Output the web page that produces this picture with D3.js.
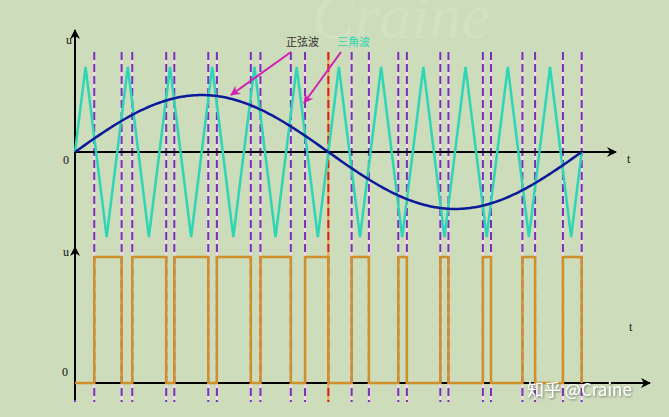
<!DOCTYPE html><html><head><meta charset="utf-8">
<script src="https://cdn.jsdelivr.net/npm/d3@7"></script>
<style>body{margin:0;background:#cddcbb}svg{display:block}</style></head><body>
<script>
// time normalised to one sine period (0..1)
const triVerts = [[0,0],[0.0208,1],[0.0625,-1],[0.1042,1],[0.1458,-1],[0.1875,1],[0.2292,-1],[0.2708,1],[0.3125,-1],[0.3542,1],[0.3958,-1],[0.4375,1],[0.4792,-1],[0.5208,1],[0.5625,-1],[0.6042,1],[0.6458,-1],[0.6875,1],[0.7292,-1],[0.7708,1],[0.8125,-1],[0.8542,1],[0.8958,-1],[0.9375,1],[0.9792,-1],[1,0]];
const sineAmp = 0.67;
const switchTimes = [0,0.038,0.092,0.113,0.180,0.196,0.263,0.280,0.347,0.366,0.426,0.454,0.5,0.546,0.580,0.638,0.655,0.721,0.737,0.805,0.821,0.883,0.908,0.963,1.0];
const pwmHigh = [[0.038,0.092],[0.113,0.180],[0.196,0.263],[0.280,0.347],[0.366,0.426],[0.454,0.5],[0.546,0.580],[0.638,0.655],[0.721,0.737],[0.805,0.821],[0.883,0.908],[0.963,1.0]];
const labels = ["正弦波","三角波"];

const W=669,H=417;
const svg=d3.select("body").append("svg").attr("width",W).attr("height",H);
const defs=svg.append("defs");
const f=defs.append("filter").attr("id","sh");
f.append("feDropShadow").attr("dx",1).attr("dy",1).attr("stdDeviation",1).attr("flood-color","#556050").attr("flood-opacity",0.8);
svg.append("rect").attr("width",W).attr("height",H).attr("fill","#cddcbb");
svg.append("text").attr("x",312).attr("y",38).attr("font-family","Liberation Serif").attr("font-size",64).attr("font-style","italic").attr("fill","#d3e1c3").text("Craine");

const x=d3.scaleLinear().domain([0,1]).range([75,581.7]);
const y=d3.scaleLinear().domain([-1,1]).range([237,67]);
const y2=d3.scaleLinear().domain([0,1]).range([383,257]);

switchTimes.forEach(t=>{
  const red = t===0.5;
  svg.append("line").attr("x1",x(t)).attr("x2",x(t)).attr("y1",52).attr("y2",402).attr("stroke",red?"#f0a040":"#f4d8f0").attr("stroke-width",2);
  svg.append("line").attr("x1",x(t)).attr("x2",x(t)).attr("y1",52).attr("y2",402).attr("stroke",red?"#d42020":"#7a2fb8").attr("stroke-width",2).attr("stroke-dasharray","8,4");
});

defs.append("marker").attr("id","ah").attr("viewBox","0 0 10 10").attr("refX",9).attr("refY",5).attr("markerWidth",5).attr("markerHeight",5).attr("orient","auto").append("path").attr("d","M0,0L10,5L0,10L3,5Z").attr("fill","#000");
function ax(x1,y1,x2,y2v){svg.append("line").attr("x1",x1).attr("y1",y1).attr("x2",x2).attr("y2",y2v).attr("stroke","#000").attr("stroke-width",2).attr("marker-end","url(#ah)");}
ax(75,y(0),616,y(0)); ax(75,400,75,30); ax(75,y2(0),650,y2(0)); ax(75,400,75,247);

svg.append("path").attr("d",d3.line().x(d=>x(d[0])).y(d=>y(d[1]))(triVerts)).attr("fill","none").attr("stroke","#2dd6b4").attr("stroke-width",2.5);
const sinePts=d3.range(0,1.0001,0.005).map(t=>[t,sineAmp*Math.sin(2*Math.PI*t)]);
svg.append("path").attr("d",d3.line().x(d=>x(d[0])).y(d=>y(d[1]))(sinePts)).attr("fill","none").attr("stroke","#0a1a9a").attr("stroke-width",2.5);

const pw=[[0,0]];
pwmHigh.forEach(([a,b])=>{pw.push([a,0],[a,1],[b,1],[b,0]);});
svg.append("path").attr("d",d3.line().x(d=>x(d[0])).y(d=>y2(d[1]))(pw)).attr("fill","none").attr("stroke","#d08f2a").attr("stroke-width",2.5);

const tf="Liberation Serif";
[[66,44,"u"],[63,256,"u"],[63,164,"0"],[62,376,"0"],[627,163,"t"],[629,331,"t"]].forEach(d=>svg.append("text").attr("x",d[0]).attr("y",d[1]).attr("font-family",tf).attr("font-size",12).attr("fill","#111").text(d[2]));
svg.append("text").attr("x",286).attr("y",46).attr("font-family","Noto Sans CJK SC").attr("font-size",11).attr("fill","#333").text(labels[0]);
svg.append("text").attr("x",337).attr("y",46).attr("font-family","Noto Sans CJK SC").attr("font-size",11).attr("fill","#2dd6b4").text(labels[1]);
const mg=defs.append("marker").attr("id","am").attr("viewBox","0 0 10 10").attr("refX",9).attr("refY",5).attr("markerWidth",5).attr("markerHeight",5).attr("orient","auto");
mg.append("path").attr("d","M0,0L10,5L0,10L3,5Z").attr("fill","#d020b0");
svg.append("line").attr("x1",291).attr("y1",52).attr("x2",231).attr("y2",95).attr("stroke","#d020b0").attr("stroke-width",2).attr("marker-end","url(#am)");
svg.append("line").attr("x1",341).attr("y1",52).attr("x2",304).attr("y2",103).attr("stroke","#d020b0").attr("stroke-width",2).attr("marker-end","url(#am)");
svg.append("text").attr("x",527).attr("y",396).attr("font-family","Noto Sans CJK SC").attr("font-size",17).attr("fill","#fff").attr("filter","url(#sh)").text("知乎 @Craine");
</script></body></html>
